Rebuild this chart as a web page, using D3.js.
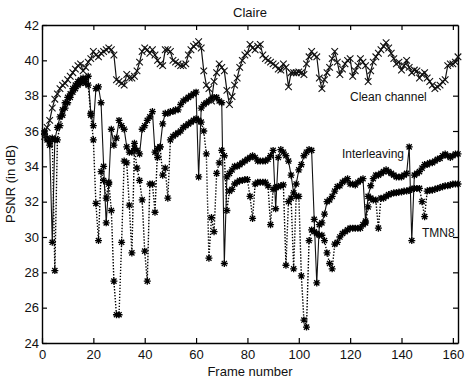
<!DOCTYPE html>
<html>
<head>
<meta charset="utf-8">
<script src="https://cdn.jsdelivr.net/npm/d3@7"></script>
<style>
  body { margin: 0; background: #fff; }
  text { font-family: "Liberation Sans", Arial, sans-serif; fill: #111; }
</style>
</head>
<body>
<script>
// frame numbers 1..162
const frames = d3.range(1, 163);

const cleanChannel = [
  35.7, 36.2, 36.6, 37.3, 37.8, 38.1, 38.4, 38.6, 38.7, 38.9,
  39.1, 39.3, 39.5, 39.7, 39.8, 39.4, 39.6, 39.9, 40.1, 40.5,
  40.3, 40.2, 40.4, 40.5, 40.6, 40.7, 40.6, 40.3, 38.9, 38.8,
  38.7, 38.6, 39.2, 39.0, 39.0, 39.1, 39.4, 39.9, 40.5, 40.7,
  40.6, 40.4, 40.6, 40.3, 40.0, 39.8, 39.7, 40.6, 40.6, 40.5,
  40.0, 39.9, 39.8, 39.7, 39.7, 39.8, 40.3, 40.6, 40.8, 40.9,
  41.05, 40.7, 39.4, 38.6, 38.4, 37.7, 38.8, 39.3, 39.8, 39.6,
  39.4, 38.3, 37.5, 37.95, 38.6, 39.0, 39.6, 40.0, 40.3, 40.4,
  40.9, 40.7, 40.6, 40.8, 40.9, 40.3, 40.1, 40.0, 39.9, 39.8,
  39.7, 39.5, 39.45, 39.8, 39.6, 38.5, 39.3, 39.3, 39.3, 39.35,
  39.3, 39.2, 39.8, 40.2, 40.5, 40.3, 40.2, 39.0, 38.4, 38.9,
  39.3, 39.6, 40.1, 40.5, 39.9, 39.2, 39.5, 39.8, 40.0, 40.1,
  39.1, 39.4, 39.7, 40.1, 39.9, 39.7, 38.8, 39.4, 39.9, 40.2,
  40.4, 40.6, 40.8, 41.0, 40.7, 40.4, 40.1, 39.8, 39.9, 39.45,
  39.7, 40.0, 39.6, 39.3, 39.45, 39.4, 39.0, 39.2, 39.3, 39.0,
  38.8, 38.6, 38.4, 38.5, 38.6, 38.8, 38.9, 39.7, 39.8, 39.8,
  39.9, 40.2
];

const interleaving = [
  36.0, 35.5, 35.2, 29.7, 35.5, 36.2, 36.8, 37.2, 37.6, 37.9,
  38.1, 38.4, 38.6, 38.8, 38.9, 39.0, 38.9, 39.1, 37.0, 36.3,
  38.4, 38.5, 37.6, 34.0, 30.8, 33.0, 36.1, 35.2, 35.6, 36.6,
  36.3, 36.1, 35.1, 34.8, 34.8, 35.3, 34.9, 34.7, 36.1, 36.3,
  36.6, 36.8, 37.1, 34.8, 34.5, 35.1, 36.4, 37.0, 37.0, 37.1,
  37.1, 37.2, 37.2, 37.5, 37.7, 37.8, 37.9, 38.0, 38.1, 38.2,
  33.4, 37.3, 37.5, 37.6, 37.7, 37.8, 37.9, 37.9, 37.7, 37.6,
  28.5, 33.4, 33.6, 33.8, 34.0, 34.0, 34.1, 34.2, 34.3, 34.4,
  34.5, 34.6, 34.5, 34.3, 34.3, 34.3, 34.3, 34.4, 34.6, 34.9,
  31.6, 34.5, 34.95, 34.8, 34.6, 34.3, 33.5, 32.5, 33.0, 33.8,
  34.1, 34.6, 34.8, 34.95, 34.9, 31.0, 27.4, 30.7, 30.8, 31.3,
  32.0, 32.1, 32.3, 32.6, 32.85, 32.9, 33.1, 33.2, 33.3, 33.0,
  33.0, 32.95, 33.1, 33.2, 33.3, 30.9, 32.3, 32.9, 33.3, 33.5,
  33.5, 33.6, 33.7, 33.8, 33.7, 33.6, 33.5, 33.4, 33.4, 33.4,
  33.5, 33.6, 35.1, 29.8, 33.5, 33.6, 33.7, 33.9, 34.1, 34.1,
  34.2, 34.2, 34.3, 34.4, 34.45, 34.6, 34.7, 34.6, 34.5, 34.6,
  34.7, 34.7
];

const tmn8 = [
  35.8, 35.6, 35.4, 35.6, 28.1, 35.5, 36.3, 36.9, 37.3, 37.6,
  37.9, 38.2, 38.4, 38.6, 38.7, 38.8, 38.7, 38.6, 36.9, 35.5,
  31.9, 29.8, 33.7, 33.2, 32.2, 33.1, 31.5, 27.5, 25.6, 25.6,
  29.7, 34.3, 34.2, 31.8, 29.1, 35.0, 33.9, 33.2, 32.1, 29.2,
  27.5, 33.0, 33.0, 31.4, 35.0, 35.1, 33.5, 33.9, 32.2, 35.5,
  35.7, 35.8, 35.9, 36.0, 36.2, 36.3, 36.4, 36.5, 36.6, 36.7,
  36.6, 36.5, 36.0, 34.7, 28.8, 31.1, 30.3, 33.6, 34.2, 34.9,
  34.6, 31.5, 32.6, 32.7, 33.0, 33.1, 33.2, 33.2, 33.25, 33.25,
  32.3, 31.05, 33.0, 33.1, 33.1, 33.1, 33.1, 32.9, 30.7, 32.7,
  32.8, 32.85, 32.9, 32.95, 28.4, 32.0, 32.2, 28.2, 32.3, 32.3,
  27.8, 25.3, 24.9, 29.8, 30.4, 30.3, 30.2, 30.1, 30.1, 29.8,
  29.1, 28.5, 28.2, 29.6, 29.7, 30.0, 30.2, 30.3, 30.4, 30.5,
  30.5, 30.5, 30.5, 30.5, 30.7, 30.8, 31.7, 32.2, 32.1, 32.1,
  30.5, 32.2, 32.2, 32.3, 32.4, 32.45, 32.5, 32.5, 32.55, 32.55,
  32.6, 32.6, 32.65, 32.7, 32.75, 32.75, 32.75, 32.0, 31.15, 32.6,
  32.65, 32.65, 32.7, 32.75, 32.8, 32.85, 32.9, 32.9, 32.95, 33.0,
  33.0, 33.0
];

const xTicks = [0, 20, 40, 60, 80, 100, 120, 140, 160];
const yTicks = [24, 26, 28, 30, 32, 34, 36, 38, 40, 42];

const mLeft = 42, mTop = 25, w = 416, h = 318;

const svg = d3.select("body").append("svg")
  .attr("width", 474)
  .attr("height", 385);

const x = d3.scaleLinear().domain([0, 162]).range([mLeft, mLeft + w]);
const y = d3.scaleLinear().domain([24, 42]).range([mTop + h, mTop]);

const g = svg.append("g");

// axes with inward ticks
g.append("g")
  .attr("transform", `translate(0,${mTop + h})`)
  .call(d3.axisBottom(x).tickValues(xTicks).tickSize(-5).tickPadding(7).tickSizeOuter(0))
  .call(a => a.selectAll("text").attr("font-size", 13));
g.append("g")
  .attr("transform", `translate(0,${mTop})`)
  .call(d3.axisTop(x).tickValues(xTicks).tickSize(-5).tickFormat("").tickSizeOuter(0));
g.append("g")
  .attr("transform", `translate(${mLeft},0)`)
  .call(d3.axisLeft(y).tickValues(yTicks).tickSize(-5).tickPadding(3).tickSizeOuter(0))
  .call(a => a.selectAll("text").attr("font-size", 13));
g.append("g")
  .attr("transform", `translate(${mLeft + w},0)`)
  .call(d3.axisRight(y).tickValues(yTicks).tickSize(-5).tickFormat("").tickSizeOuter(0));

svg.selectAll(".domain").attr("stroke", "#000").attr("stroke-width", 1.4);
svg.selectAll(".tick line").attr("stroke", "#000").attr("stroke-width", 1.2);
svg.selectAll(".tick text").attr("fill", "#111").attr("font-family", "Liberation Sans, Arial, sans-serif");

const line = d3.line().x((d, i) => x(frames[i])).y(d => y(d));

const plot = svg.append("g");

// TMN8 : dotted with asterisks
plot.append("path")
  .attr("d", line(tmn8))
  .attr("fill", "none")
  .attr("stroke", "#000")
  .attr("stroke-width", 1.4)
  .attr("stroke-dasharray", "1.4,1.6");

// Interleaving : solid with asterisks
plot.append("path")
  .attr("d", line(interleaving))
  .attr("fill", "none")
  .attr("stroke", "#111")
  .attr("stroke-width", 1.1);

// Clean channel : solid with x marks
plot.append("path")
  .attr("d", line(cleanChannel))
  .attr("fill", "none")
  .attr("stroke", "#111")
  .attr("stroke-width", 1.2);

const star = "M-3.5,0H3.5M0,-3.5V3.5M-2.6,-2.6L2.6,2.6M-2.6,2.6L2.6,-2.6";
const cross = "M-3.3,-3.3L3.3,3.3M-3.3,3.3L3.3,-3.3";

plot.selectAll("path.tm").data(tmn8)
  .enter().append("path")
  .attr("class", "tm")
  .attr("d", star)
  .attr("transform", (d, i) => `translate(${x(frames[i])},${y(d)})`)
  .attr("stroke", "#000")
  .attr("stroke-width", 1.3)
  .attr("fill", "none");

plot.selectAll("path.il").data(interleaving)
  .enter().append("path")
  .attr("class", "il")
  .attr("d", star)
  .attr("transform", (d, i) => `translate(${x(frames[i])},${y(d)})`)
  .attr("stroke", "#000")
  .attr("stroke-width", 1.3)
  .attr("fill", "none");

plot.selectAll("path.cc").data(cleanChannel)
  .enter().append("path")
  .attr("class", "cc")
  .attr("d", cross)
  .attr("transform", (d, i) => `translate(${x(frames[i])},${y(d)})`)
  .attr("stroke", "#111")
  .attr("stroke-width", 1.1)
  .attr("fill", "none");

// labels
svg.append("text").attr("x", 250).attr("y", 17).attr("text-anchor", "middle")
  .attr("font-size", 13).text("Claire");
svg.append("text").attr("x", 250).attr("y", 376).attr("text-anchor", "middle")
  .attr("font-size", 13).text("Frame number");
svg.append("text").attr("transform", "translate(15,184) rotate(-90)")
  .attr("text-anchor", "middle").attr("font-size", 13).text("PSNR (in dB)");

svg.append("text").attr("x", 350).attr("y", 101).attr("font-size", 12).text("Clean channel");
svg.append("text").attr("x", 342).attr("y", 158).attr("font-size", 12).text("Interleaving");
svg.append("text").attr("x", 422).attr("y", 237).attr("font-size", 12).text("TMN8");
</script>
</body>
</html>
